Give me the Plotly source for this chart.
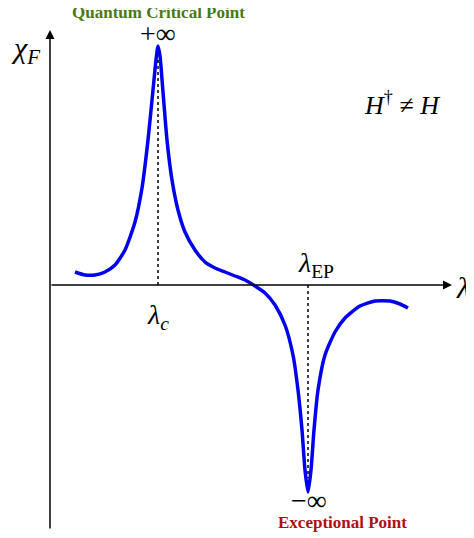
import plotly.graph_objects as go

# curve (pixel-like coords, y grows downward)
curve_x = [75, 85, 95, 105, 115, 125, 135, 142, 148, 153, 156, 158, 160, 163, 167, 172, 178, 185,
           195, 205, 215, 225, 235, 245, 255, 265, 275, 285, 293, 298, 302, 305, 308, 311, 314,
           318, 325, 335, 345, 360, 375, 390, 400, 408]
curve_y = [272, 275, 275, 272, 265, 250, 222, 188, 140, 90, 60, 46, 56, 92, 140, 180, 210, 232,
           250, 262, 268, 272, 276, 280, 286, 293, 305, 325, 355, 390, 430, 470, 492, 470, 430,
           390, 355, 332, 318, 306, 301, 301, 304, 308]

qcp_x, ep_x = 158, 308
axis_y, axis_x = 285, 50

serif = "Liberation Serif"
fig = go.Figure()
fig.add_trace(go.Scatter(x=curve_x, y=curve_y, mode="lines",
                         line=dict(color="#0000ee", width=3.5, shape="spline", smoothing=0.6),
                         hoverinfo="skip"))

# dashed guides
fig.add_shape(type="line", x0=qcp_x, x1=qcp_x, y0=60, y1=axis_y,
              line=dict(color="black", width=1.5, dash="dot"))
fig.add_shape(type="line", x0=ep_x, x1=ep_x, y0=axis_y, y1=478,
              line=dict(color="black", width=1.5, dash="dot"))

# axes with arrows
ann = []
ann.append(dict(x=452, y=axis_y, ax=axis_x, ay=axis_y, axref="x", ayref="y", xref="x", yref="y",
                text="", showarrow=True, arrowhead=2, arrowsize=1.2, arrowwidth=1.5, arrowcolor="black"))
ann.append(dict(x=axis_x, y=30, ax=axis_x, ay=530, axref="x", ayref="y", xref="x", yref="y",
                text="", showarrow=True, arrowhead=2, arrowsize=1.2, arrowwidth=1.5, arrowcolor="black"))

def label(x, y, text, size=26, color="black"):
    ann.append(dict(x=x, y=y, xref="x", yref="y", text=text, showarrow=False,
                    font=dict(family=serif, size=size, color=color)))

label(158, 12, "<b>Quantum Critical Point</b>", 17, "#4a7a10")
label(158, 33, "+∞", 28)
label(25, 50, "<i>χ</i><sub><i>F</i></sub>", 30)
label(402, 103, "<i>H</i><sup>†</sup> ≠ <i>H</i>", 26)
label(463, 287, "<i>λ</i>", 30)
label(158, 316, "<i>λ</i><sub><i>c</i></sub>", 28)
label(316, 264, "<i>λ</i><sub>EP</sub>", 28)
label(309, 500, "−∞", 28)
label(342, 522, "<b>Exceptional Point</b>", 17, "#b01010")
fig.update_layout(annotations=ann)

# ranges offset by the 8px page margin so the picture aligns with the window
fig.update_layout(width=474, height=538, margin=dict(l=0, r=0, t=0, b=0),
                  plot_bgcolor="white", paper_bgcolor="white", showlegend=False,
                  xaxis=dict(range=[8, 482], visible=False, fixedrange=True),
                  yaxis=dict(range=[546, 8], visible=False, fixedrange=True))
fig.write_html("out.html")
